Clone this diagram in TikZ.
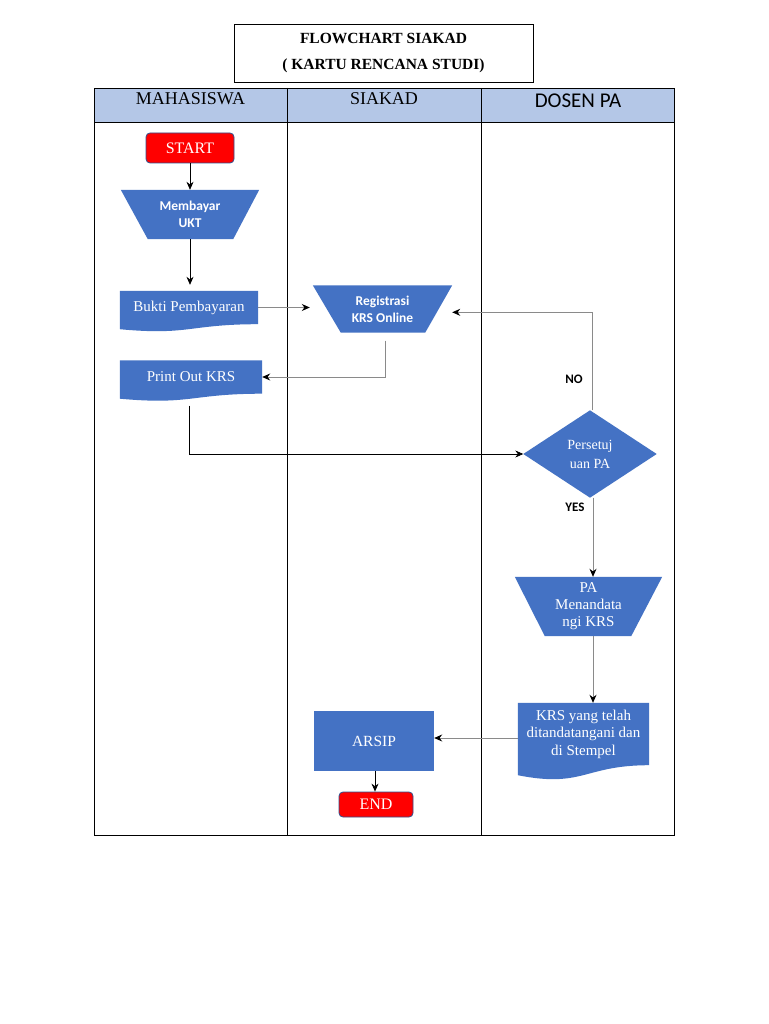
\documentclass[tikz,border=0pt]{standalone}
\usepackage{fontspec}
\setmainfont{Liberation Serif}
\newfontfamily\calib{Carlito}
\usetikzlibrary{arrows.meta,calc,backgrounds}
\definecolor{boxblue}{HTML}{4472C4}
\definecolor{hdrblue}{HTML}{B4C7E7}
\definecolor{redfill}{HTML}{FF0000}
\definecolor{redline}{HTML}{2F528F}
\definecolor{conn}{HTML}{8A8A8A}
\tikzset{
  lane/.style={draw=black,line width=0.9pt},
  shapebox/.style={draw=none,fill=none,inner sep=0pt,align=center,text=white},
  termbox/.style={draw=redline,fill=redfill,line width=0.8pt,rounded corners=4pt,inner sep=0pt,text=white,font=\fontsize{16}{18}\selectfont},
  conline/.style={draw=conn,line width=0.9pt,-{Stealth[black,length=8pt,width=7pt]}},
  blkline/.style={draw=black,line width=0.7pt,-{Stealth[black,length=8pt,width=7pt]}},
  lbl/.style={font=\calib\bfseries\fontsize{13}{15}\selectfont,text=black,inner sep=0pt}
}
\newcommand{\trapfill}[3]{% node, left inset, right inset
  \fill[boxblue] (#1.north west) -- (#1.north east) -- ($(#1.south east)+(-#3,0)$) -- ($(#1.south west)+(#2,0)$) -- cycle;}
\newcommand{\docfillshape}[2]{% node, wave depth
  \fill[boxblue] (#1.north west) -- (#1.north east) -- (#1.south east)
    .. controls ($(#1.south east)!0.5!(#1.south west)$) and ($(#1.south east)!0.5!(#1.south west)+(0,2.3*#2)$) ..
    ($(#1.south west)+(0,#2)$) -- cycle;}
\begin{document}
\begin{tikzpicture}[x=1pt,y=-1pt]
\useasboundingbox (0,0) rectangle (768,1024);
% title
\node[draw=black,line width=0.8pt,minimum width=299pt,minimum height=58pt,inner sep=0pt,align=center,
  font=\bfseries\fontsize{15.5}{18}\selectfont] (title) at (383.5,53)
  {FLOWCHART SIAKAD\\[8pt]( KARTU RENCANA STUDI)};
% lanes
\fill[hdrblue] (94,88) rectangle (674,122);
\draw[lane] (94,88) rectangle (674,835);
\draw[lane] (287,88) -- (287,835);
\draw[lane] (481,88) -- (481,835);
\draw[lane] (94,122) -- (674,122);
\node[font=\fontsize{18}{20}\selectfont] (hmhs) at (190.5,99) {MAHASISWA};
\node[font=\fontsize{18}{20}\selectfont] (hsia) at (384,99) {SIAKAD};
\node[font=\calib\fontsize{21}{23}\selectfont] (hdos) at (578,101) {DOSEN PA};
% nodes
\node[termbox,minimum width=88pt,minimum height=30pt] (start) at (190,148) {START};
\node[shapebox,minimum width=138pt,minimum height=49pt,font=\calib\bfseries\fontsize{13.5}{17}\selectfont] (ukt) at (190,214.5) {Membayar\\UKT};
\node[shapebox,minimum width=138pt,minimum height=33pt,font=\fontsize{15}{17}\selectfont] (bukti) at (189,307.5) {Bukti Pembayaran};
\node[shapebox,minimum width=142pt,minimum height=33pt,font=\fontsize{15}{17}\selectfont] (print) at (191,377) {Print Out KRS};
\node[shapebox,minimum width=139pt,minimum height=47pt,font=\calib\bfseries\fontsize{13.5}{17}\selectfont] (reg) at (382.5,309) {Registrasi\\KRS Online};
\node[shapebox,minimum width=133pt,minimum height=87pt,font=\fontsize{14}{19}\selectfont] (dia) at (590,454) {Persetuj\\uan PA};
\node[shapebox,minimum width=147pt,minimum height=59pt,font=\fontsize{15}{17}\selectfont] (pa) at (588.5,606.5) {PA\\Menandata\\ngi KRS};
\node[shapebox,minimum width=131pt,minimum height=62pt,font=\fontsize{15}{17.5}\selectfont] (krs) at (583.5,734) {KRS yang telah\\ditandatangani dan\\di Stempel};
\node[shapebox,fill=boxblue,minimum width=120pt,minimum height=60pt,font=\fontsize{15.5}{17}\selectfont] (arsip) at (374,741) {ARSIP};
\node[termbox,minimum width=74pt,minimum height=25pt] (end) at (376,804.5) {END};
% shape bodies
\begin{scope}[on background layer]
  \fill[white] (0,0) rectangle (768,1024);
  \trapfill{ukt}{27}{26}
  \trapfill{reg}{28}{27}
  \trapfill{pa}{30}{31}
  \docfillshape{bukti}{5}
  \docfillshape{print}{5}
  \docfillshape{krs}{10}
  \fill[boxblue] (dia.north) -- (dia.east) -- (dia.south) -- (dia.west) -- cycle;
\end{scope}
% connectors
\draw[blkline] (start.south) -- (start.south |- ukt.north);
\draw[blkline] (ukt.south) -- ($(ukt.south |- bukti.north)+(0,-6)$);
\draw[conline] (bukti.east) -- ($(bukti.east -| reg.west)+(-3,0)$);
\draw[conline] ($(reg.south)+(3,8)$) |- (print.east);
\draw[blkline] ($(print.south)+(-2,12)$) |- (dia.west);
\coordinate (nocorner) at ($(dia.north)+(2,-98)$);
\draw[conline] ($(dia.north)+(2,0)$) -- (nocorner) -- (nocorner -| reg.east);
\draw[conline] ($(dia.south)+(3,0)$) -- ($(dia.south |- pa.north)+(3,0)$);
\draw[conline] ($(pa.south)+(4.5,0)$) -- ($(pa.south |- krs.north)+(4.5,0)$);
\draw[conline] ($(krs.west)+(0,4)$) -- ($(krs.west -| arsip.east)+(0,4)$);
\draw[blkline] ($(arsip.south)+(1,0)$) -- ($(arsip.south |- end.north)+(1,0)$);
% labels
\node[lbl] (nolbl) at (574,379) {NO};
\node[lbl] (yeslbl) at (575,507) {YES};
\end{tikzpicture}
\end{document}
